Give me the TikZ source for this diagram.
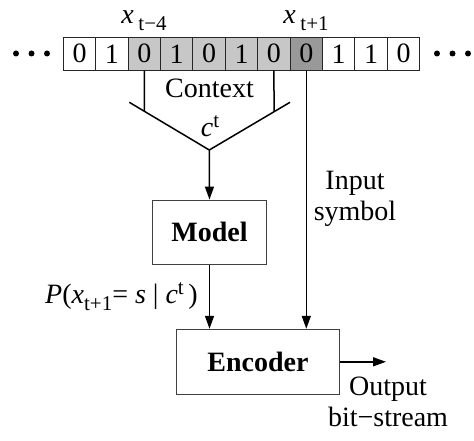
\documentclass[tikz,border=0pt]{standalone}
\usepackage{fontspec}
\setmainfont{Liberation Serif}
\usetikzlibrary{arrows.meta}

\definecolor{ctxgray}{gray}{0.78}
\definecolor{curgray}{gray}{0.6}

\tikzset{
  cell/.style={rectangle, draw=black!85, line width=0.9pt, minimum width=32.4pt, minimum height=32.7pt, inner sep=0pt, font=\fontsize{28}{28}\selectfont},
  block/.style={rectangle, draw=black!75, line width=1pt, inner sep=0pt, font=\fontsize{28}{28}\selectfont\bfseries},
  lbl/.style={font=\fontsize{28}{31}\selectfont, align=center, inner sep=0pt},
  wire/.style={line width=1.5pt},
  arr/.style={line width=1.5pt, -{Triangle[length=13pt,width=9pt]}},
}

\begin{document}
\begin{tikzpicture}[x=1pt,y=-1pt]
          % Variables
          \def \cellw {32.4}
          \def \cellx {63.3}
          \def \celly {53.8}

          \useasboundingbox (0,0) rectangle (474,441);

          % Bit cells
          \foreach \b/\col [count=\i] in {0/white,1/white,0/ctxgray,1/ctxgray,0/ctxgray,1/ctxgray,0/ctxgray,0/curgray,1/white,1/white,0/white}
            \node[cell, fill=\col] (c\i) at ({\cellx+(\i-0.5)*\cellw}, \celly) {\b};

          % Dots
          \foreach \x in {16,31.5,47,437,452.5,468}
            \fill (\x,53.5) circle (3pt);

          % Cell labels
          \node[lbl] (xa) at (144,21) {\textit{x}\,\raisebox{-7pt}{\fontsize{21}{21}\selectfont t−4}};
          \node[lbl] (xb) at (306,21) {\textit{x}\,\raisebox{-7pt}{\fontsize{21}{21}\selectfont t+1}};

          % Context funnel
          \coordinate (vl) at (129.3,102.3);
          \coordinate (vr) at (290,102.3);
          \coordinate (vb) at (209.3,150);
          \coordinate (jl) at (144.3,111.2);
          \coordinate (jr) at (274.1,111.7);
          \draw[wire] (vl) -- (vb) -- (vr);
          \draw[wire] (c3.south) -- (jl);
          \draw[wire] (c7.south) -- (jr);
          \node[lbl] (ctx) at (209.5,88) {Context};
          \node[lbl] (ct) at (210,126) {\textit{c}\raisebox{9pt}{\fontsize{21}{21}\selectfont t}};

          % Blocks
          \node[block, minimum width=114pt, minimum height=64.3pt] (model) at (209.5,232.2) {Model};
          \node[block, minimum width=162.6pt, minimum height=65pt] (enc) at (258,361.8) {Encoder};

          % Arrows
          \draw[arr] (vb) -- (model.north);
          \draw[arr] (model.south) -- (model.south |- enc.north);
          \draw[arr] (c8.south) -- (c8.south |- enc.north);
          \coordinate (out) at (386,361.8);
          \draw[arr] (enc.east) -- (out);

          % Texts
          \node[lbl] (insym) at (355,199) {Input\\symbol};
          \node[lbl] (outbs) at (388,402) {Output\\bit−stream};
          \node[lbl, anchor=east] (prob) at (198,297) {\textit{P}(\textit{x}\raisebox{-7pt}{\fontsize{21}{21}\selectfont t+1}= \textit{s} | \textit{c}\raisebox{9pt}{\fontsize{21}{21}\selectfont t}\,)};

        \end{tikzpicture}
\end{document}
